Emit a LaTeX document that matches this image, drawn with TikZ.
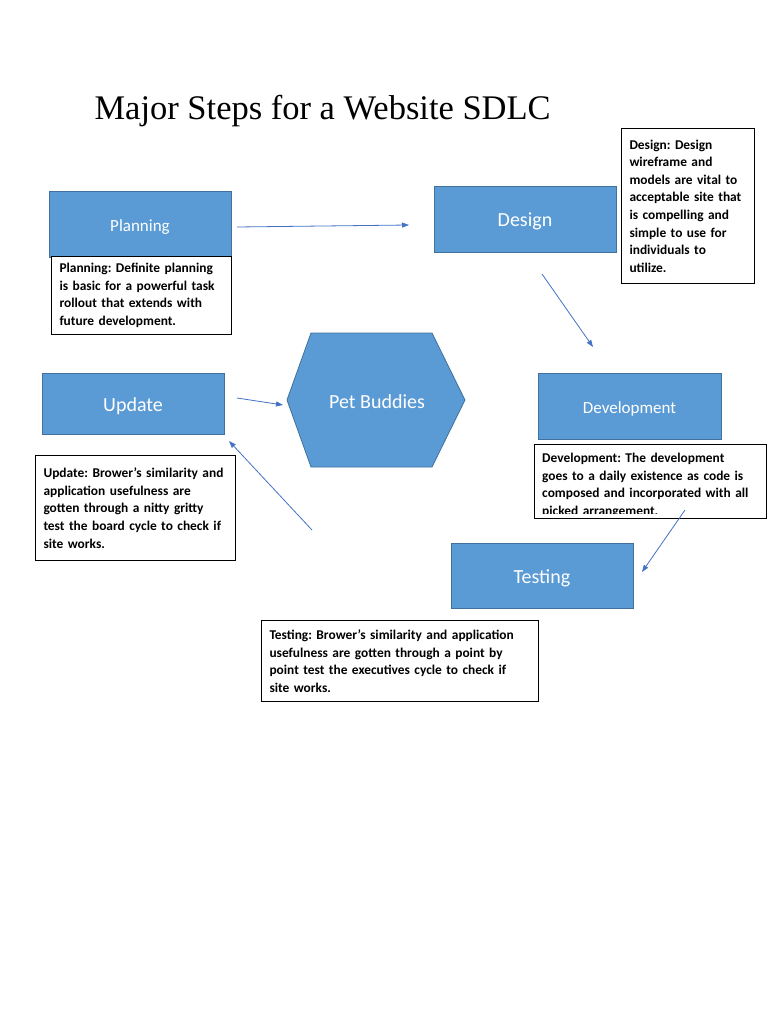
\documentclass[tikz,border=0pt]{standalone}
\usepackage{fontspec}
\setmainfont{Carlito}
\newfontfamily\titlefont{Liberation Serif}
\usetikzlibrary{arrows.meta,shapes.geometric}
\definecolor{boxblue}{HTML}{5B9BD5}
\definecolor{boxedge}{HTML}{41719C}
\definecolor{arrowblue}{HTML}{4472C4}
\tikzset{
  stepbox/.style={draw=boxedge,fill=boxblue,line width=0.8pt,inner sep=0pt},
  smalllabel/.style={text=white,font=\fontsize{17}{20}\selectfont},
  biglabel/.style={text=white,font=\fontsize{20}{24}\selectfont},
  notefont/.style={font=\frenchspacing\bfseries\fontsize{13.4}{17.6}\selectfont},
  notebox/.style={notefont,draw=black,fill=white,line width=1pt,anchor=north west,align=left,inner xsep=8pt,inner ysep=5pt},
  flow/.style={draw=arrowblue,line width=0.8pt,-{Triangle[length=7pt,width=5pt]}}
}
\begin{document}
\begin{tikzpicture}[x=1pt,y=-1pt]
\useasboundingbox (0,0) rectangle (768,1024);
\fill[white] (0,0) rectangle (768,1024);

\node[anchor=base west,font=\titlefont\fontsize{34.5}{40}\selectfont] (title) at (91,120) {Major Steps for a Website SDLC};

% Planning
\node[stepbox,minimum width=182pt,minimum height=66pt] (plan) at (140,224) {};
\node[smalllabel] (planlabel) at ([yshift=-3pt]plan.center) {Planning};
\node[notebox,text width=164pt,minimum height=78pt] (plannote) at (51,256) {Planning: Definite planning\\is basic for a powerful task\\rollout that extends with\\future development.};

% Design
\node[stepbox,minimum width=182pt,minimum height=66pt] (design) at (525,219) {};
\node[biglabel] (designlabel) at ([yshift=-2pt]design.center) {Design};
\node[notebox,text width=117pt,minimum height=155pt] (designnote) at (621,128) {Design: Design\\wireframe and\\models are vital to\\acceptable site that\\is compelling and\\simple to use for\\individuals to\\utilize.};

% Development
\node[stepbox,minimum width=183pt,minimum height=66pt] (dev) at (629.5,406) {};
\node[smalllabel] (devlabel) at ([yshift=-3pt]dev.center) {Development};
\begin{scope}
\clip (534,444) rectangle (766,513);
\node[notefont,anchor=north west,align=left,inner xsep=8pt,inner ysep=5pt,text width=216pt] (devtext) at (534,448) {Development: The development\\goes to a daily existence as code is\\composed and incorporated with all\\picked arrangement.};
\end{scope}
\draw[black,line width=1pt] (534,444) rectangle (766,518);
\coordinate (devnote) at (650,481);

% Testing
\node[stepbox,minimum width=182pt,minimum height=65pt] (test) at (542,575.5) {};
\node[biglabel] (testlabel) at ([yshift=-3pt]test.center) {Testing};
\node[notebox,text width=261pt,minimum height=81pt] (testnote) at (261,620) {Testing: Brower's similarity and application\\usefulness are gotten through a point by\\point test the executives cycle to check if\\site works.};

% Update
\node[stepbox,minimum width=182pt,minimum height=61pt] (update) at (133,403.5) {};
\node[biglabel] (updatelabel) at ([yshift=-3pt]update.center) {Update};
\node[notebox,text width=184pt,minimum height=105pt] (updatenote) at (35,455) {Update: Brower's similarity and\\application usefulness are\\gotten through a nitty gritty\\test the board cycle to check if\\site works.};

% Hexagon
\draw[stepbox] (287,400) -- (311,333) -- (432,333) -- (465,400) -- (432,467) -- (311,467) -- cycle;
\node[biglabel] (pet) at (377,402) {Pet Buddies};

% Connectors
\coordinate (a1s) at (237,227);
\coordinate (a1e) at (409,225);
\coordinate (a2s) at (542,274);
\coordinate (a2e) at (593,347);
\coordinate (a3s) at (685,510);
\coordinate (a3e) at (642,572);
\coordinate (a4s) at (312,530);
\coordinate (a4e) at (229,441);
\coordinate (a5s) at (237,398);
\coordinate (a5e) at (283,405);
\draw[flow] (a1s) -- (a1e);
\draw[flow] (a2s) -- (a2e);
\draw[flow] (a3s) -- (a3e);
\draw[flow] (a4s) -- (a4e);
\draw[flow] (a5s) -- (a5e);
\end{tikzpicture}
\end{document}
